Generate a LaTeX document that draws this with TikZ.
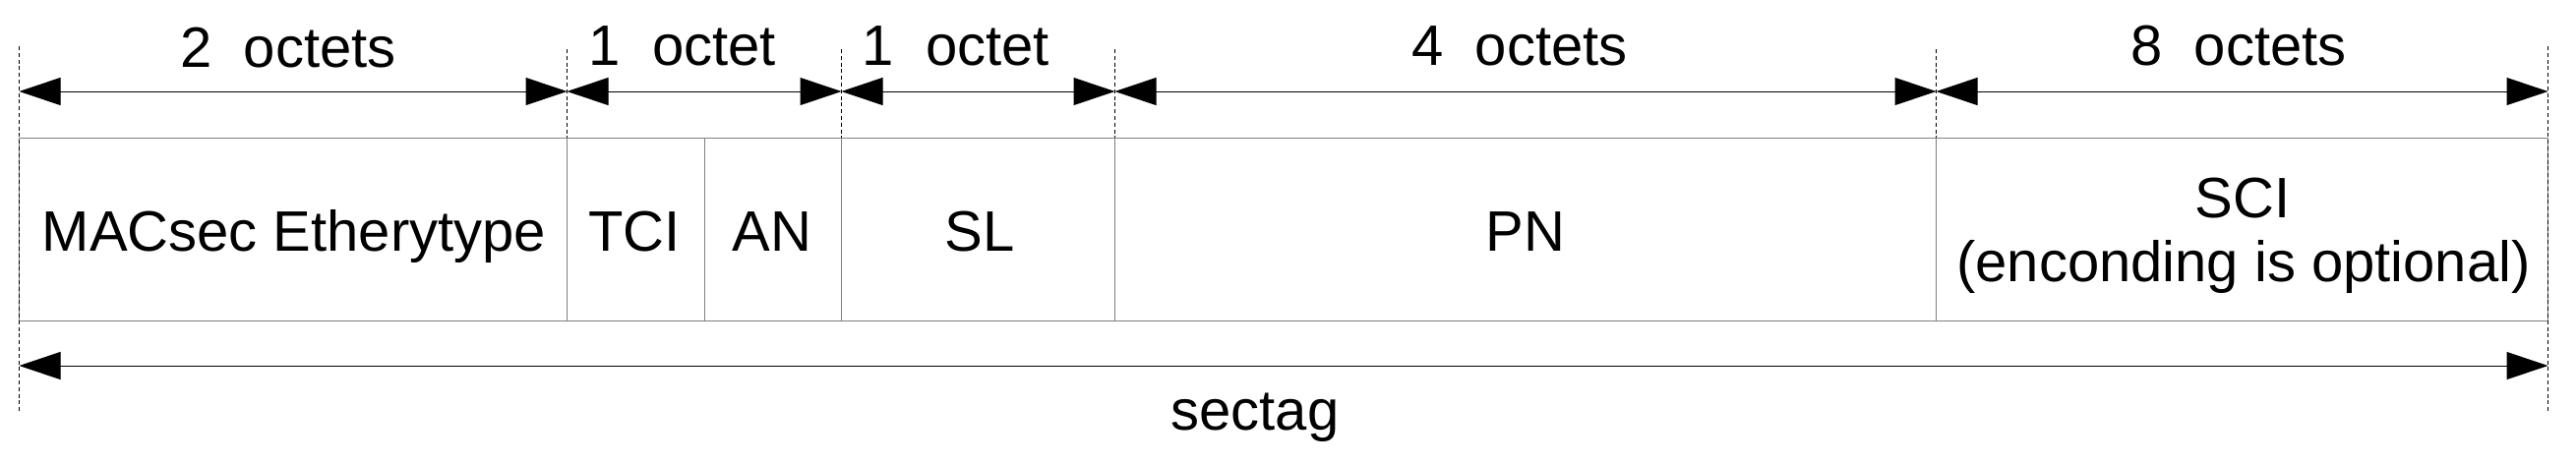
\documentclass[tikz,border=0pt]{standalone}
\usepackage{fontspec}
\setmainfont{Liberation Sans}
\usetikzlibrary{arrows.meta}
\begin{document}
\begin{tikzpicture}[x=0.5pt,y=-0.5pt,
  lbl/.style={font=\fontsize{29}{33}\selectfont, inner sep=0pt, anchor=base},
  dimline/.style={draw=black, line width=0.5pt,
    {Triangle[length=21pt,width=14pt]}-{Triangle[length=21pt,width=14pt]}},
  guide/.style={draw=black, line width=0.5pt, dash pattern=on 2pt off 1.4pt},
  cellline/.style={draw=black!50, line width=0.5pt}]
\path[use as bounding box] (0,0) rectangle (2619,472);

% field box
\draw[cellline] (19.5,140) rectangle (2590.5,326);
\foreach \x in {576.5,716.5,855.5,1133.5,1968.5}
  \draw[cellline] (\x,140) -- (\x,326);

% guide lines
\draw[guide] (19.5,47) -- (19.5,419);
\draw[guide] (2590.5,47) -- (2590.5,419);
\foreach \x in {576.5,855.5,1133.5,1968.5}
  \draw[guide] (\x,50) -- (\x,140);

% dimension end points
\coordinate (t0) at (19.5,93);
\coordinate (t1) at (576.5,93);
\coordinate (t2) at (855.5,93);
\coordinate (t3) at (1133.5,93);
\coordinate (t4) at (1968.5,93);
\coordinate (t5) at (2590.5,93);
\coordinate (b0) at (19.5,372);
\coordinate (b1) at (2590.5,372);

\draw[dimline] (t0) -- (t1);
\draw[dimline] (t1) -- (t2);
\draw[dimline] (t2) -- (t3);
\draw[dimline] (t3) -- (t4);
\draw[dimline] (t4) -- (t5);
\draw[dimline] (b0) -- (b1);

% size labels
\node[lbl] (o1) at (293,68) {2~~octets};
\node[lbl] (o2) at (694,66) {1~~octet};
\node[lbl] (o3) at (972,66) {1~~octet};
\node[lbl] (o4) at (1545,66) {4~~octets};
\node[lbl] (o5) at (2276,66) {8~~octets};

% field labels
\node[lbl] (mac) at (299,255) {MACsec Etherytype};
\node[lbl] (tci) at (645,255) {TCI};
\node[lbl] (an) at (785,255) {AN};
\node[lbl] (sl) at (996,255) {SL};
\node[lbl] (pn) at (1551,255) {PN};
\node[lbl] (sci) at (2280,221) {SCI};
\node[lbl] (enc) at (2281,286) {(enconding is optional)};

\node[lbl] (sectag) at (1276,437) {sectag};
\end{tikzpicture}
\end{document}
